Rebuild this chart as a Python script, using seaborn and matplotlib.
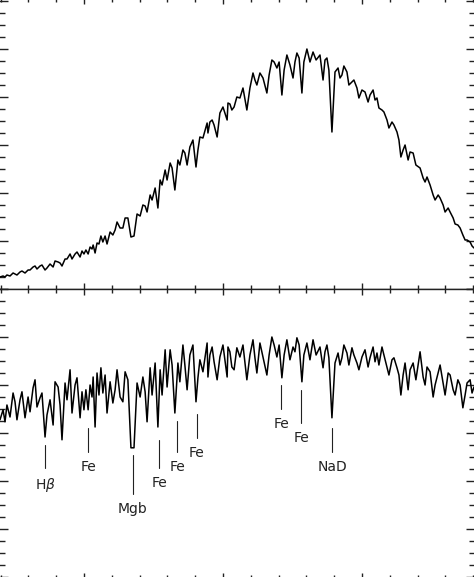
import numpy as np
import matplotlib
matplotlib.use('Agg')
import matplotlib.pyplot as plt
from matplotlib.ticker import MultipleLocator, AutoMinorLocator
import seaborn as sns

# wavelength grid (Angstrom)
wave = [4698, 4709, 4716, 4723, 4734, 4745, 4752, 4759, 4770, 4777,
        4788, 4799, 4806, 4817, 4824, 4831, 4842, 4849, 4860, 4867,
        4878, 4889, 4896, 4907, 4914, 4921, 4932, 4939, 4950, 4957,
        4968, 4975, 4986, 4993, 5000, 5007, 5015, 5022, 5029, 5033,
        5040, 5047, 5054, 5061, 5068, 5076, 5083, 5094, 5104, 5112,
        5119, 5130, 5140, 5148, 5158, 5169, 5180, 5191, 5202, 5212,
        5220, 5227, 5238, 5245, 5256, 5266, 5274, 5281, 5292, 5299,
        5310, 5317, 5327, 5338, 5345, 5356, 5363, 5371, 5381, 5392,
        5403, 5410, 5417, 5428, 5443, 5446, 5453, 5461, 5468, 5479,
        5489, 5500, 5515, 5518, 5525, 5532, 5540, 5550, 5561, 5572,
        5586, 5597, 5608, 5615, 5622, 5633, 5644, 5658, 5666, 5676,
        5684, 5694, 5702, 5712, 5720, 5730, 5741, 5752, 5759, 5766,
        5774, 5784, 5791, 5802, 5813, 5824, 5835, 5849, 5860, 5867,
        5874, 5881, 5892, 5903, 5914, 5921, 5928, 5935, 5946, 5953,
        5964, 5971, 5982, 5989, 6000, 6011, 6022, 6029, 6040, 6047,
        6054, 6061, 6072, 6079, 6090, 6097, 6108, 6115, 6126, 6133,
        6140, 6148, 6155, 6166, 6173, 6184, 6194, 6209, 6220, 6227,
        6234, 6245, 6256, 6263, 6274, 6281, 6292, 6299, 6310, 6317,
        6328, 6335, 6345, 6353, 6363, 6371, 6378, 6389, 6396, 6403]

# observed spectrum (arbitrary flux units)
flux = [3.0, 3.25, 3.0, 3.5, 3.25, 4.0, 3.75, 3.5, 4.25, 4.5,
        4.0, 4.75, 4.75, 5.5, 5.75, 5.0, 5.75, 6.0, 4.75, 5.25,
        6.25, 5.5, 7.0, 6.75, 6.5, 5.75, 7.5, 7.5, 8.75, 7.5,
        8.75, 9.25, 8.0, 9.5, 8.75, 9.75, 8.75, 10.5, 10.0, 11.0,
        9.0, 11.5, 11.25, 13.25, 11.75, 13.25, 11.25, 14.25, 13.5, 14.75,
        16.75, 15.25, 15.25, 17.75, 17.75, 13.0, 13.25, 18.75, 18.25, 21.0,
        20.75, 19.25, 23.5, 22.25, 25.25, 20.25, 27.25, 26.0, 29.75, 27.25,
        31.5, 30.25, 24.75, 32.25, 31.0, 34.75, 34.0, 31.0, 35.5, 37.25,
        30.5, 34.75, 38.0, 37.75, 41.5, 39.0, 41.75, 42.25, 41.0, 38.0,
        44.0, 45.5, 42.25, 46.5, 46.25, 44.75, 45.5, 48.0, 47.75, 50.25,
        44.75, 50.25, 54.0, 52.25, 51.0, 54.0, 52.75, 49.0, 53.5, 57.25,
        56.75, 55.25, 56.75, 48.5, 54.75, 58.5, 56.0, 52.75, 56.75, 59.0,
        57.75, 49.0, 56.75, 60.0, 56.75, 59.25, 57.25, 58.5, 52.25, 57.25,
        57.75, 54.75, 39.25, 54.25, 55.25, 52.75, 53.5, 55.75, 54.25, 51.0,
        51.75, 52.25, 50.25, 47.75, 49.75, 49.25, 46.75, 48.5, 49.75, 47.25,
        47.75, 45.25, 44.75, 44.25, 42.25, 40.25, 41.75, 41.0, 39.25, 37.25,
        33.0, 34.75, 36.0, 32.25, 34.25, 34.0, 31.0, 30.25, 27.75, 26.75,
        28.0, 26.0, 23.5, 22.25, 23.5, 22.75, 21.0, 19.25, 20.25, 19.25,
        17.75, 16.25, 16.0, 15.25, 13.5, 12.25, 12.25, 11.75, 10.75, 10.25]

# continuum-normalised spectrum
flux_norm = [0.743, 0.768, 0.738, 0.780, 0.750, 0.810, 0.788, 0.743, 0.793, 0.813,
             0.748, 0.800, 0.763, 0.823, 0.843, 0.775, 0.798, 0.810, 0.700, 0.755,
             0.793, 0.730, 0.838, 0.825, 0.780, 0.693, 0.835, 0.793, 0.868, 0.760,
             0.830, 0.848, 0.748, 0.813, 0.768, 0.818, 0.768, 0.830, 0.800, 0.850,
             0.725, 0.860, 0.805, 0.873, 0.810, 0.855, 0.760, 0.838, 0.785, 0.818,
             0.868, 0.800, 0.788, 0.863, 0.843, 0.673, 0.673, 0.835, 0.800, 0.850,
             0.813, 0.738, 0.873, 0.805, 0.885, 0.725, 0.868, 0.805, 0.918, 0.825,
             0.918, 0.880, 0.760, 0.885, 0.838, 0.930, 0.880, 0.818, 0.905, 0.930,
             0.788, 0.848, 0.893, 0.863, 0.935, 0.850, 0.905, 0.925, 0.888, 0.843,
             0.900, 0.930, 0.850, 0.925, 0.913, 0.875, 0.868, 0.923, 0.900, 0.930,
             0.843, 0.905, 0.943, 0.898, 0.860, 0.935, 0.900, 0.855, 0.905, 0.950,
             0.930, 0.900, 0.930, 0.848, 0.905, 0.943, 0.893, 0.925, 0.913, 0.948,
             0.930, 0.838, 0.905, 0.935, 0.893, 0.943, 0.905, 0.925, 0.873, 0.913,
             0.930, 0.898, 0.748, 0.885, 0.910, 0.880, 0.898, 0.930, 0.910, 0.880,
             0.923, 0.905, 0.885, 0.868, 0.900, 0.918, 0.875, 0.898, 0.925, 0.888,
             0.910, 0.880, 0.925, 0.905, 0.875, 0.855, 0.893, 0.898, 0.873, 0.855,
             0.805, 0.855, 0.885, 0.818, 0.868, 0.885, 0.843, 0.913, 0.850, 0.830,
             0.875, 0.863, 0.800, 0.830, 0.860, 0.880, 0.835, 0.805, 0.860, 0.855,
             0.818, 0.805, 0.843, 0.830, 0.773, 0.805, 0.835, 0.843, 0.810, 0.825]

# absorption features marked in the lower panel
line_names = ['H$\\beta$', 'Fe', 'Mgb', 'Fe', 'Fe', 'Fe', 'Fe', 'Fe', 'NaD']
line_waves = [4861, 5015, 5175, 5270, 5335, 5406, 5709, 5782, 5893]
mark_top = [0.680, 0.723, 0.655, 0.693, 0.740, 0.758, 0.830, 0.818, 0.723]
mark_bottom = [0.623, 0.663, 0.558, 0.623, 0.663, 0.698, 0.770, 0.735, 0.663]

assert len(wave) == len(flux) == len(flux_norm)

sns.set_style('ticks')
plt.rcParams['font.family'] = ['DejaVu Sans']

fig, (ax1, ax2) = plt.subplots(2, 1, figsize=(4.74, 5.77), dpi=100)
# panels fill the whole canvas, outer frame just outside the picture
ax1.set_position([-2/474, 288/577, 478/474, 291/577])
ax2.set_position([-2/474, -2/577, 478/474, 290/577])

sns.lineplot(x=wave, y=flux, ax=ax1, color='black', linewidth=1.1,
             estimator=None, sort=False)
sns.lineplot(x=wave, y=flux_norm, ax=ax2, color='black', linewidth=1.1,
             estimator=None, sort=False)

for name, w, top, bot in zip(line_names, line_waves, mark_top, mark_bottom):
    ax2.plot([w, w], [top, bot], color='#222222', linewidth=0.8)
    ax2.annotate(name, xy=(w, bot), xytext=(0, -6), textcoords='offset points',
                 ha='center', va='top', fontsize=10, color='#222222')

ax1.set_ylim(0, 72.75)
ax1.yaxis.set_major_locator(MultipleLocator(12))
ax1.yaxis.set_minor_locator(MultipleLocator(3))

ax2.set_ylim(0.345, 1.07)
ax2.set_yticks(np.arange(0.35, 1.08, 0.12))
ax2.yaxis.set_minor_locator(AutoMinorLocator(4))

for ax in (ax1, ax2):
    ax.set_xlim(4690.8, 6410.2)
    ax.xaxis.set_major_locator(MultipleLocator(500))
    ax.xaxis.set_minor_locator(MultipleLocator(100))
    ax.tick_params(which='both', direction='in', top=True, right=True,
                   labelbottom=False, labelleft=False, width=1.0, color='#222222')
    ax.tick_params(axis='x', which='major', length=4.5)
    ax.tick_params(axis='x', which='minor', length=3)
    ax.tick_params(axis='y', which='major', length=7.5)
    ax.tick_params(axis='y', which='minor', length=4.8)
    for s in ax.spines.values():
        s.set_linewidth(1.0)
        s.set_color('#222222')
    ax.set_xlabel('')
    ax.set_ylabel('')

fig.savefig('out.png', dpi=100)
